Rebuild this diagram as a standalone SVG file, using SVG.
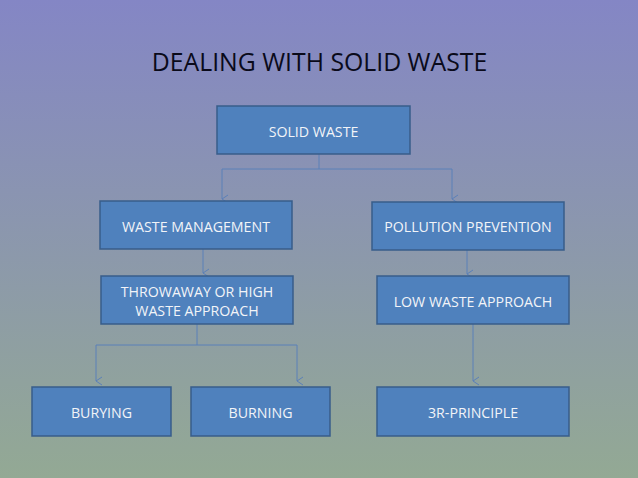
<svg xmlns="http://www.w3.org/2000/svg" width="638" height="478" viewBox="0 0 638 478">
<defs>
<linearGradient id="bg" x1="0" y1="0" x2="0" y2="1">
<stop offset="0" stop-color="#8486C5"/>
<stop offset="1" stop-color="#93A994"/>
</linearGradient>
<marker id="arr" markerWidth="10" markerHeight="10" refX="5" refY="8" orient="auto-start-reverse" markerUnits="userSpaceOnUse" viewBox="0 0 10 10">
<path d="M1,2 L5,8 L9,2" fill="none" stroke="#5B80B8" stroke-width="1"/>
</marker>
<style>
.box{fill:#4F81BD;stroke:#385D8A;stroke-width:1.5}
.t{font-family:"Open Sans","Liberation Sans",sans-serif;font-size:14.2px;fill:#F2F4F8;text-anchor:middle}
.title{font-family:"Open Sans","Liberation Sans",sans-serif;font-size:24.8px;fill:#0A0A1A;text-anchor:middle}
.c{fill:none;stroke:#5B80B8;stroke-width:1}
</style>
</defs>
<rect x="0" y="0" width="638" height="478" fill="url(#bg)"/>
<text class="title" x="319.5" y="71">DEALING WITH SOLID WASTE</text>
<g id="connectors">
<path class="c" d="M319,154 V169 H222 V199" marker-end="url(#arr)"/>
<path class="c" d="M319,169 H452 V199" marker-end="url(#arr)"/>
<path class="c" d="M203,249 V273" marker-end="url(#arr)"/>
<path class="c" d="M467,250 V274" marker-end="url(#arr)"/>
<path class="c" d="M197,324 V345 H96 V381" marker-end="url(#arr)"/>
<path class="c" d="M197,345 H297 V381" marker-end="url(#arr)"/>
<path class="c" d="M473,324 V381" marker-end="url(#arr)"/>
</g>
<g id="solid-waste"><rect class="box" x="217" y="106" width="193" height="48"/><text class="t" x="313.5" y="137">SOLID WASTE</text></g>
<g id="waste-management"><rect class="box" x="100" y="201" width="192" height="48"/><text class="t" x="196" y="232">WASTE MANAGEMENT</text></g>
<g id="pollution-prevention"><rect class="box" x="372" y="202" width="192" height="48"/><text class="t" x="468" y="232">POLLUTION PREVENTION</text></g>
<g id="throwaway"><rect class="box" x="101" y="276" width="192" height="48"/><text class="t" x="197" y="297">THROWAWAY OR HIGH</text><text class="t" x="197" y="316">WASTE APPROACH</text></g>
<g id="low-waste"><rect class="box" x="377" y="276" width="192" height="48"/><text class="t" x="473" y="307">LOW WASTE APPROACH</text></g>
<g id="burying"><rect class="box" x="32" y="387" width="139" height="49"/><text class="t" x="101.5" y="418">BURYING</text></g>
<g id="burning"><rect class="box" x="191" y="387" width="139" height="49"/><text class="t" x="260.5" y="418">BURNING</text></g>
<g id="principle"><rect class="box" x="377" y="387" width="192" height="49"/><text class="t" x="473" y="418">3R-PRINCIPLE</text></g>
</svg>
